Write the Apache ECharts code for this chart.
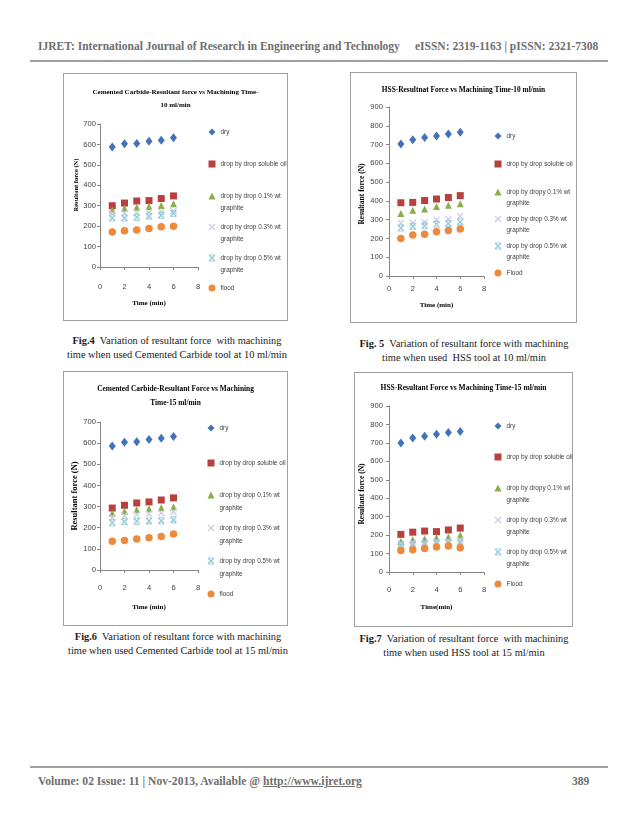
<!DOCTYPE html>
<html>
<head>
<meta charset="utf-8">
<script src="https://cdn.jsdelivr.net/npm/echarts@6/dist/echarts.min.js"></script>
<style>
  html, body { margin: 0; padding: 0; background: #fff; }
  #page { position: relative; width: 638px; height: 826px; font-family: "Liberation Serif", serif; }
  .hd { position: absolute; font-weight: bold; color: #6e6e6e; white-space: pre; }
  .rule { position: absolute; left: 30px; width: 578px; height: 2px; background: #a0a0a0; }
  .box { position: absolute; box-shadow: inset 0 0 0 1px #a0a0a0; }
  .cap { position: absolute; width: 300px; font-size: 10.4px; line-height: 14px; text-align: center; color: #1a1a1a; white-space: pre; }
</style>
</head>
<body>
<div id="page">
  <div class="hd" style="left:38px;top:40px;font-size:11.5px;">IJRET: International Journal of Research in Engineering and Technology</div>
  <div class="hd" style="left:415px;top:40px;font-size:11.5px;">eISSN: 2319-1163 | pISSN: 2321-7308</div>
  <div class="rule" style="top:60px;"></div>

  <div id="fig4" class="box" style="left:63px;top:73px;width:225px;height:248px;"></div>
  <div id="fig5" class="box" style="left:350px;top:72px;width:227px;height:251px;"></div>
  <div id="fig6" class="box" style="left:63px;top:371px;width:225px;height:255px;"></div>
  <div id="fig7" class="box" style="left:354px;top:372px;width:219px;height:255px;"></div>

  <div class="cap" style="left:27px;top:334px;"><b>Fig.4</b>  Variation of resultant force  with machining
time when used Cemented Carbide tool at 10 ml/min</div>
  <div class="cap" style="left:314px;top:337px;"><b>Fig. 5</b>  Variation of resultant force with machining
time when used  HSS tool at 10 ml/min</div>
  <div class="cap" style="left:28px;top:630px;"><b>Fig.6</b>  Variation of resultant force with machining
time when used Cemented Carbide tool at 15 ml/min</div>
  <div class="cap" style="left:314px;top:632px;"><b>Fig.7</b>  Variation of resultant force  with machining
time when used HSS tool at 15 ml/min</div>

  <div class="rule" style="top:766px;"></div>
  <div class="hd" style="left:38px;top:775px;font-size:11.6px;">Volume: 02 Issue: 11 | Nov-2013, Available @ <u>http://www.ijret.org</u></div>
  <div class="hd" style="left:572px;top:775px;font-size:11.6px;">389</div>
</div>
<script>
// machining time (min)
const timeMin = [1, 2, 3, 4, 5, 6];

// Fig.4 cemented carbide, 10 ml/min
const cc10Dry = [587, 603, 605, 615, 620, 633];
const cc10Soluble = [300, 313, 323, 325, 335, 348];
const cc10Gr01 = [279, 288, 292, 296, 301, 310];
const cc10Gr03 = [262, 263, 265, 268, 270, 274];
const cc10Gr05 = [240, 240, 243, 250, 253, 262];
const cc10Flood = [171, 178, 181, 188, 197, 200];

// Fig.5 HSS, 10 ml/min
const hss10Dry = [703, 726, 738, 745, 756, 765];
const hss10Soluble = [390, 392, 402, 410, 418, 428];
const hss10Gr01 = [333, 350, 357, 370, 377, 385];
const hss10Gr03 = [282, 283, 286, 300, 302, 318];
const hss10Gr05 = [255, 265, 267, 275, 280, 288];
const hss10Flood = [200, 218, 222, 235, 242, 250];

// Fig.6 cemented carbide, 15 ml/min
const cc15Dry = [586, 604, 607, 617, 623, 632];
const cc15Soluble = [293, 306, 317, 322, 331, 341];
const cc15Gr01 = [268, 278, 285, 290, 295, 298];
const cc15Gr03 = [250, 256, 262, 266, 270, 276];
const cc15Gr05 = [223, 228, 230, 232, 233, 238];
const cc15Flood = [136, 140, 147, 153, 158, 170];

// Fig.7 HSS, 15 ml/min
const hss15Dry = [700, 727, 736, 747, 756, 762];
const hss15Soluble = [204, 216, 222, 219, 228, 238];
const hss15Gr01 = [166, 175, 179, 186, 190, 200];
const hss15Gr03 = [155, 158, 160, 165, 168, 172];
const hss15Gr05 = [145, 148, 150, 155, 158, 160];
const hss15Flood = [117, 121, 128, 136, 141, 131];

const ccNames = ['dry', 'drop by drop soluble oil', 'drop by drop 0.1% wt\ngraphite',
  'drop by drop 0.3% wt\ngraphite', 'drop by drop 0.5% wt\ngraphite', 'flood'];
const hssNames = ['dry', 'drop by drop soluble oil', 'drop by dropy 0.1% wt\ngraphite',
  'drop by drop 0.3% wt\ngraphite', 'drop by drop 0.5% wt\ngraphite', 'Flood'];

const symX = 'path://M0,1.4L1.4,0L10,8.6L8.6,10Z M8.6,0L10,1.4L1.4,10L0,8.6Z';
const symStar = symX + ' M1,0L9,0L9,1.2L1,1.2Z M1,8.8L9,8.8L9,10L1,10Z';
const markers = [
  { symbol: 'diamond', size: [7, 9], color: '#4273B9' },
  { symbol: 'rect', size: 7, color: '#B8413E' },
  { symbol: 'triangle', size: 7, color: '#8AAE4B' },
  { symbol: symX, size: 7, color: '#D3CCE3' },
  { symbol: symStar, size: 7, color: '#93CADC' },
  { symbol: 'circle', size: 7.5, color: '#EE8A3C' }
];

const serif = '"Liberation Serif", serif';
const sans = '"Liberation Sans", sans-serif';

const figs = [
  {
    id: 'fig4', yMax: 700, names: ccNames,
    values: [cc10Dry, cc10Soluble, cc10Gr01, cc10Gr03, cc10Gr05, cc10Flood],
    title: 'Cemented Carbide-Resultant force vs Machining Time-\n10 ml/min', titleSize: 7, titleTop: 12.5, titleLH: 13,
    grid: { left: 37, top: 51, width: 98, height: 143 },
    xMargin: 16, xName: 'Time (min)', xNameGap: 33,
    yMargin: 4, yNameSize: 6.5, yNameGap: 20, yNamePad: [0, 0, 0, 21],
    legX: 149, legY: [59, 91, 123, 154, 185, 215], legLH: 12
  },
  {
    id: 'fig5', yMax: 900, names: hssNames,
    values: [hss10Dry, hss10Soluble, hss10Gr01, hss10Gr03, hss10Gr05, hss10Flood],
    title: 'HSS-Resultnat Force vs Machining Time-10 ml/min', titleSize: 7.4, titleTop: 11.5, titleLH: 13,
    grid: { left: 39, top: 35, width: 95, height: 169 },
    xMargin: 9, xName: 'Time (min)', xNameGap: 26,
    yMargin: 6, yNameSize: 7.5, yNameGap: 20, yNamePad: [0, 5, 0, 0],
    legX: 148, legY: [64, 92, 120, 147, 174, 201], legLH: 11
  },
  {
    id: 'fig6', yMax: 700, names: ccNames,
    values: [cc15Dry, cc15Soluble, cc15Gr01, cc15Gr03, cc15Gr05, cc15Flood],
    title: 'Cemented Carbide-Resultant Force vs Machining\nTime-15 ml/min', titleSize: 7.4, titleTop: 11, titleLH: 14,
    grid: { left: 37, top: 51, width: 98, height: 148 },
    xMargin: 14, xName: 'Time (min)', xNameGap: 34,
    yMargin: 4, yNameSize: 8.5, yNameGap: 20, yNamePad: [0, 0, 0, 0],
    legX: 148, legY: [57, 92, 124, 157, 190, 223], legLH: 13
  },
  {
    id: 'fig7', yMax: 900, names: hssNames,
    values: [hss15Dry, hss15Soluble, hss15Gr01, hss15Gr03, hss15Gr05, hss15Flood],
    title: 'HSS-Resultant Force vs Machining Time-15 ml/min', titleSize: 7.5, titleTop: 9.5, titleLH: 13,
    grid: { left: 35, top: 34, width: 95, height: 166 },
    xMargin: 14, xName: 'Time(min)', xNameGap: 32,
    yMargin: 6, yNameSize: 7.5, yNameGap: 20, yNamePad: [0, 10, 0, 0],
    legX: 144, legY: [54, 85, 116, 148, 180, 212], legLH: 12.5
  }
];

function buildOption(f) {
  const axisCommon = {
    type: 'value',
    splitLine: { show: false },
    axisLine: { show: true, lineStyle: { color: '#868686', width: 1 } },
    axisTick: { show: true, inside: false, length: 3, lineStyle: { color: '#868686' } }
  };
  // one legend per entry so each can sit where the reference puts it;
  // two-line entries get a blank leading line so the marker lines up with the first line
  const legends = f.names.map(function (name, i) {
    const two = name.indexOf('\n') >= 0;
    return {
      data: [name],
      left: f.legX - 3.5,
      top: f.legY[i] - (two ? 1.5 * f.legLH : f.legLH / 2),
      padding: 0,
      itemWidth: 7,
      itemHeight: 7,
      selectedMode: false,
      formatter: two ? function (n) { return '\n' + n; } : '{name}',
      textStyle: { fontFamily: sans, fontSize: 6.4, color: '#404040', lineHeight: f.legLH }
    };
  });
  return {
    animation: false,
    title: {
      text: f.title, left: 'center', top: f.titleTop, padding: 0,
      textStyle: { fontFamily: serif, fontWeight: 'bold', fontSize: f.titleSize, lineHeight: f.titleLH, color: '#000' }
    },
    grid: Object.assign({ containLabel: false, outerBoundsMode: 'none' }, f.grid),
    xAxis: Object.assign({}, axisCommon, {
      min: 0, max: 8, interval: 2,
      name: f.xName, nameLocation: 'middle', nameGap: f.xNameGap,
      nameTextStyle: { fontFamily: serif, fontWeight: 'bold', fontSize: 7, color: '#000' },
      axisLabel: { margin: f.xMargin, fontFamily: sans, fontSize: 7.6, color: '#404040' }
    }),
    yAxis: Object.assign({}, axisCommon, {
      min: 0, max: f.yMax, interval: 100,
      name: 'Resultant force (N)', nameLocation: 'middle', nameGap: f.yNameGap,
      nameTextStyle: { fontFamily: serif, fontWeight: 'bold', fontSize: f.yNameSize, color: '#000', padding: f.yNamePad },
      axisLabel: { margin: f.yMargin, fontFamily: sans, fontSize: 7.6, color: '#404040' }
    }),
    legend: legends,
    series: f.values.map(function (vals, i) {
      return {
        type: 'scatter',
        name: f.names[i],
        symbol: markers[i].symbol,
        symbolSize: markers[i].size,
        itemStyle: { color: markers[i].color, opacity: 1 },
        data: timeMin.map(function (t, k) { return [t, vals[k]]; })
      };
    })
  };
}

figs.forEach(function (f) {
  const chart = echarts.init(document.getElementById(f.id), null, { renderer: 'canvas' });
  chart.setOption(buildOption(f));
});
</script>
</body>
</html>
